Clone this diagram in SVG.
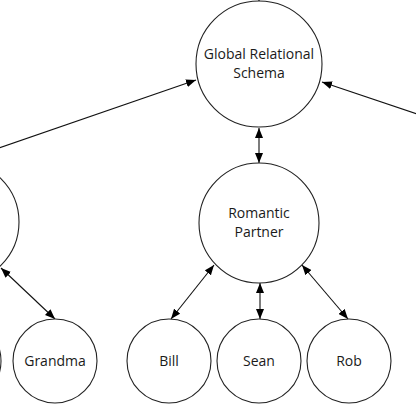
<svg xmlns="http://www.w3.org/2000/svg" width="416" height="416" viewBox="0 0 416 416">
<defs>
<marker id="ah" viewBox="0 0 10 8" refX="10" refY="4" markerWidth="10" markerHeight="8" markerUnits="userSpaceOnUse" orient="auto-start-reverse">
<path d="M0,0 L10,4 L0,8 Z" fill="#000"/>
</marker>
<style>
.n{fill:#fff;stroke:#222;stroke-width:1.1}
.t{font-family:"Open Sans","Liberation Sans",sans-serif;font-size:14px;fill:#1a1a1a;text-anchor:middle}
.c{stroke:#111;stroke-width:1.1;fill:none}
</style>
</defs>
<rect width="416" height="416" fill="#fff"/>
<g id="connectors">
<line class="c" x1="259" y1="-20" x2="259" y2="1" marker-end="url(#ah)"/>
<line class="c" x1="-10" y1="151" x2="196" y2="80" marker-end="url(#ah)"/>
<line class="c" x1="426" y1="117" x2="322" y2="82" marker-end="url(#ah)"/>
<line class="c" x1="259" y1="128" x2="259" y2="163" marker-start="url(#ah)" marker-end="url(#ah)"/>
<line class="c" x1="1" y1="268" x2="55" y2="319" marker-start="url(#ah)" marker-end="url(#ah)"/>
<line class="c" x1="214" y1="265" x2="171" y2="319" marker-start="url(#ah)" marker-end="url(#ah)"/>
<line class="c" x1="260" y1="283" x2="260" y2="319" marker-start="url(#ah)" marker-end="url(#ah)"/>
<line class="c" x1="302" y1="265" x2="348" y2="319" marker-start="url(#ah)" marker-end="url(#ah)"/>
</g>
<g id="global">
<circle class="n" cx="259" cy="64" r="63"/>
<text class="t" x="259" y="59">Global Relational</text>
<text class="t" x="259" y="78">Schema</text>
</g>
<g id="romantic">
<circle class="n" cx="259" cy="223" r="60"/>
<text class="t" x="259" y="218">Romantic</text>
<text class="t" x="259" y="237">Partner</text>
</g>
<g id="left-parent">
<circle class="n" cx="-42" cy="222" r="61"/>
</g>
<g id="left-child">
<circle class="n" cx="-41" cy="361" r="42"/>
</g>
<g id="grandma">
<circle class="n" cx="55" cy="361" r="42"/>
<text class="t" x="55" y="366">Grandma</text>
</g>
<g id="bill">
<circle class="n" cx="169" cy="361" r="42"/>
<text class="t" x="169" y="366">Bill</text>
</g>
<g id="sean">
<circle class="n" cx="259" cy="361" r="42"/>
<text class="t" x="259" y="366">Sean</text>
</g>
<g id="rob">
<circle class="n" cx="349" cy="361" r="42"/>
<text class="t" x="349" y="366">Rob</text>
</g>
</svg>
